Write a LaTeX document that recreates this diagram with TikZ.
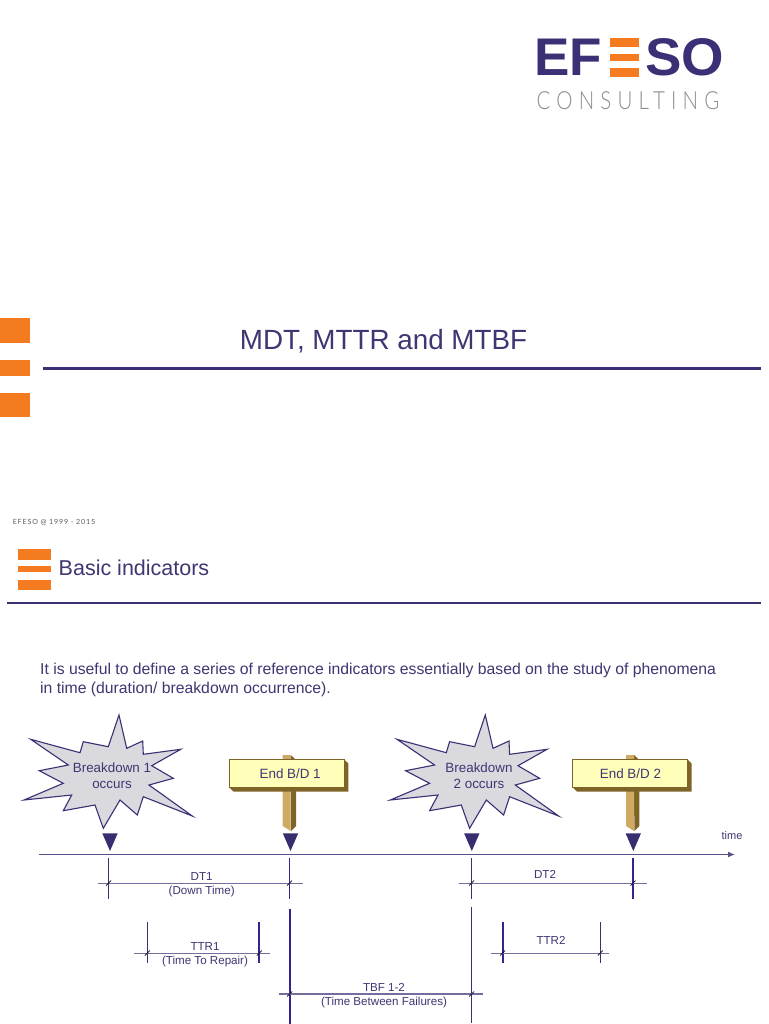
\documentclass[tikz,border=0pt]{standalone}
\usepackage{fontspec}
\usetikzlibrary{arrows.meta}
\setmainfont{Liberation Sans}
\newfontfamily\logothin[LetterSpace=30]{Lato Light}
\newfontfamily\logosmall[LetterSpace=12]{Lato}
\definecolor{efpurple}{HTML}{3B2F75}
\definecolor{eforange}{HTML}{F47B20}
\definecolor{eftext}{HTML}{3F3672}
\definecolor{efburst}{HTML}{D9D9DE}
\definecolor{efboard}{HTML}{FFFFB9}
\definecolor{efside}{HTML}{7F6428}
\definecolor{efpost}{HTML}{CFAA63}
\tikzset{
  bar/.style={fill=eforange,draw=none},
  rule/.style={draw=efpurple,line width=3pt},
  plaintext/.style={text=eftext,inner sep=0pt,align=center},
  dimtext/.style={plaintext,font=\fontsize{11.6}{14}\selectfont},
  burst/.style={draw=efpurple,fill=efburst,line width=1.1pt,line join=miter},
  board/.style={draw=efside,fill=efboard,line width=0.6pt,minimum width=114.7pt,minimum height=28pt,inner sep=0pt,text=eftext,font=\fontsize{13.4}{16}\selectfont},
  marker/.style={fill=efpurple!95!black,draw=none},
  axisline/.style={draw=efpurple!85,line width=1.3pt},
  thinbar/.style={draw=efpurple,line width=0.8pt},
  thickbar/.style={draw=efpurple!80!blue,line width=1.8pt},
  dimline/.style={draw=efpurple!70,line width=1pt},
  slash/.style={draw=black!80!efpurple,line width=0.7pt}
}
\begin{document}
\begin{tikzpicture}[x=1pt,y=-1pt]
\useasboundingbox[fill=white] (0,0) rectangle (768,1024);

% logo
\node[inner sep=0pt,text=efpurple,font=\fontsize{53}{53}\bfseries\selectfont] (logoef) at (568.5,57.5) {EF};
\node[inner sep=0pt,text=efpurple,font=\fontsize{53}{53}\bfseries\selectfont,xscale=1.03] (logoso) at (684.5,57.5) {SO};
\foreach \ya/\yb in {38.3/46.7,54.3/60.7,68.3/76.7}
    {\fill[bar] (610,\ya) rectangle (639,\yb);}
\node[inner sep=0pt,text=black!45,font=\logothin\fontsize{25}{25}\selectfont,xscale=0.82] (logosub) at (628,100.5) {CONSULTING};

% cover slide
\foreach \ya/\yb in {318/342.5,360/375.6,393/417}
    {\fill[bar] (0,\ya) rectangle (30,\yb);}
\node[plaintext,font=\fontsize{27.8}{32}\selectfont] (covertitle) at (383.5,341.5) {MDT, MTTR and MTBF};
\draw[rule] (43,368) -- (761,368);
\node[inner sep=0pt,text=black!65,font=\logosmall\fontsize{7.1}{9}\selectfont] (copyright) at (54,522) {EFESO @ 1999 - 2015};

% slide heading
\foreach \ya/\yb in {548.5/559.5,565.7/572.3,579.7/589.7}
    {\fill[bar] (17.5,\ya) rectangle (51,\yb);}
\node[plaintext,font=\fontsize{21.5}{24}\selectfont] (heading) at (134,567.5) {Basic indicators};
\draw[rule,line width=2.2pt] (7,602.7) -- (761,602.7);
\node[plaintext,anchor=west,align=left,font=\fontsize{15.75}{19.3}\selectfont] (intro) at (40,680)
    {It is useful to define a series of reference indicators essentially based on the study of phenomena\\in time (duration/ breakdown occurrence).};

% bursts
\foreach \dx in {0,366.3}
{
\begin{scope}[xshift=\dx pt]
\draw[burst] (119,715) -- (126.7,748.3) -- (142.7,741) -- (143.3,754.3) -- (180.7,749.3)
    -- (151.7,765.7) -- (173.3,778.3) -- (149,785) -- (192.3,816) -- (143.3,796.7) -- (137.3,815)
    -- (120,800) -- (103.3,828.3) -- (95,805) -- (63.3,810.7) -- (71.7,795) -- (24,800)
    -- (63.3,783.3) -- (39.3,770.7) -- (68.3,765) -- (30.7,739.3) -- (80,752.7) -- (83.3,741.7)
    -- (108.3,746.7) -- cycle;
\end{scope}
}
\node[plaintext,font=\fontsize{13.4}{16}\selectfont] (burstone) at (112,775.5) {Breakdown 1\\occurs};
\node[plaintext,font=\fontsize{13.4}{16}\selectfont] (bursttwo) at (479,775.5) {Breakdown\\2 occurs};

% signposts
\foreach \nm/\dx/\tx/\txt in {boardone/0/7/{End B/D 1},boardtwo/343.3/1/{End B/D 2}}
{
\begin{scope}[xshift=\dx pt]
\fill[efside] (290.7,755) -- (296,760) -- (296,826) -- (291,831) -- cycle;
\fill[efpost] (282.7,755) -- (290.7,755) -- (290.7,831) -- (282.7,826) -- cycle;
\fill[efside] (229.3,787.3) -- (233.5,791.5) -- (348.3,791.5) -- (348.3,763.5) -- (344,759.3) -- cycle;
\node[board] (\nm) at (286.65,773.3) {\hspace*{\tx pt}\txt};
\end{scope}
}

% markers
\foreach \x in {110,290.5,471.8,633.3}
    {\fill[marker] (\x-7.7,833.3) -- (\x+7.7,833.3) -- (\x,851) -- cycle;}

% time axis
\coordinate (axisstart) at (38.7,854.5);
\coordinate (axisend) at (735,854.5);
\draw[axisline,-{Latex[length=7pt,width=6pt]}] (axisstart) -- (axisend);
\node[plaintext,font=\fontsize{11}{13}\selectfont] (timelabel) at (732,835.5) {time};

% vertical bars
\foreach \x/\ya/\yb/\kind in {108.7/858/898.5/thinbar,289.5/858/898.5/thickbar,471.7/858/898.5/thinbar,
    633/858/898.5/thickbar,147.3/922/962.5/thinbar,259.3/922/962.5/thickbar,
    502.7/922/962.5/thickbar,600.3/922/962.5/thinbar,289.7/909/1024/thickbar,471.7/907/1022.5/thinbar}
    {\draw[\kind] (\x,\ya) -- (\x,\yb);}

% dimension lines
\foreach \nm/\xa/\xb/\yc/\lw in {dtone/98.3/302.7/883/1,dttwo/459/646.5/883/1,ttrone/134/269.7/953/1,ttrtwo/491/609/953/1,tbf/279/483.3/994/1.8}
{
\coordinate (\nm a) at (\xa,\yc);
\coordinate (\nm b) at (\xb,\yc);
\draw[dimline,line width=\lw pt] (\nm a) -- (\nm b);
}
\foreach \x/\yc in {108.7/883,289.5/883,471.7/883,633/883,147.3/953,259.3/953,502.7/953,600.3/953,289.7/994,471.7/994}
    {\draw[slash] (\x-2.5,\yc+2.5) -- (\x+2.5,\yc-2.5);}
\node[dimtext] (dtonelabel) at (201.7,884.5) {DT1\\(Down Time)};
\node[dimtext] (dttwolabel) at (545,874.5) {DT2};
\node[dimtext] (ttronelabel) at (205,954.5) {TTR1\\(Time To Repair)};
\node[dimtext] (ttrtwolabel) at (551,940) {TTR2};
\node[dimtext] (tbflabel) at (384,995.5) {TBF 1-2\\(Time Between Failures)};
\end{tikzpicture}
\end{document}
